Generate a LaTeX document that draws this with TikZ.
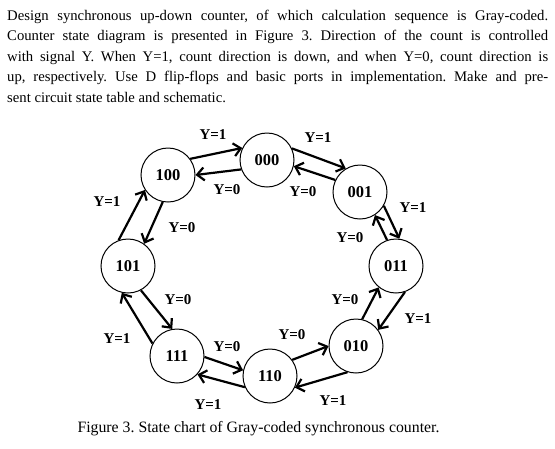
\documentclass[tikz,border=0pt]{standalone}
\usepackage{fontspec}
\setmainfont{Liberation Serif}
\frenchspacing
\usetikzlibrary{arrows.meta}
\begin{document}
\begin{tikzpicture}[x=1pt,y=-1pt,
  state/.style={circle,draw,line width=1pt,minimum size=54pt,inner sep=0pt,font=\fontsize{16.5}{16.5}\selectfont\bfseries},
  arr/.style={line width=2.2pt,-{Straight Barb[length=7pt,width=13pt,line width=2.2pt]}},
  lab/.style={font=\fontsize{15}{15}\selectfont\bfseries,inner sep=0pt},
  para/.style={anchor=base west,inner sep=0pt,font=\fontsize{14.7}{20.5}\selectfont},
  captext/.style={anchor=base,inner sep=0pt,font=\fontsize{15.8}{18}\selectfont}]
\useasboundingbox (0,0) rectangle (555,448);
% paragraph
\node[para] (p1) at (7,20) {\makebox[541pt][s]{Design synchronous up-down counter, of which calculation sequence is Gray-coded.}};
\node[para] (p2) at (7,40.5) {\makebox[541pt][s]{Counter state diagram is presented in Figure 3. Direction of the count is controlled}};
\node[para] (p3) at (7,61) {\makebox[541pt][s]{with signal Y. When Y=1, count direction is down, and when Y=0, count direction is}};
\node[para] (p4) at (7,81.5) {\makebox[541pt][s]{up, respectively. Use D flip-flops and basic ports in implementation. Make and pre-}};
\node[para] (p5) at (7,102) {sent circuit state table and schematic.};
% states
\node[state] (s000) at (267,160) {000};
\node[state] (s100) at (168,175) {100};
\node[state] (s001) at (360,192) {001};
\node[state] (s101) at (128,266) {101};
\node[state] (s011) at (396,266) {011};
\node[state] (s111) at (177,356) {111};
\node[state] (s110) at (270,376) {110};
\node[state] (s010) at (356,346) {010};
% transitions
\draw[arr] (s100.36) -- (s000.154);
\draw[arr] (s000.200) -- (s100.0);
\draw[arr] (s000.25) -- (s001.121);
\draw[arr] (s001.154) -- (s000.347);
\draw[arr] (s101.110) -- (s100.213);
\draw[arr] (s100.259) -- (s101.54);
\draw[arr] (s001.330) -- (s011.83);
\draw[arr] (s011.109) -- (s001.303);
\draw[arr] (s101.298) -- (s111.100);
\draw[arr] (s111.153) -- (s101.257);
\draw[arr] (s111.358) -- (s110.168);
\draw[arr] (s110.204) -- (s111.318);
\draw[arr] (s110.36) -- (s010.180);
\draw[arr] (s010.252) -- (s110.335);
\draw[arr] (s010.77) -- (s011.231);
\draw[arr] (s011.289) -- (s010.36);
% labels
\node[lab] (l1) at (213,135) {Y=1};
\node[lab] (l2) at (227,190) {Y=0};
\node[lab] (l3) at (318,138) {Y=1};
\node[lab] (l4) at (303,192) {Y=0};
\node[lab] (l5) at (107,202) {Y=1};
\node[lab] (l6) at (182,228) {Y=0};
\node[lab] (l7) at (413,208) {Y=1};
\node[lab] (l8) at (350,238) {Y=0};
\node[lab] (l9) at (178,300) {Y=0};
\node[lab] (l10) at (117,339) {Y=1};
\node[lab] (l11) at (227,347) {Y=0};
\node[lab] (l12) at (208,405) {Y=1};
\node[lab] (l13) at (292,335) {Y=0};
\node[lab] (l14) at (333,401) {Y=1};
\node[lab] (l15) at (345,300) {Y=0};
\node[lab] (l16) at (418,319) {Y=1};
% caption
\node[captext] (caption) at (258.5,432) {Figure 3. State chart of Gray-coded synchronous counter.};
\end{tikzpicture}
\end{document}
